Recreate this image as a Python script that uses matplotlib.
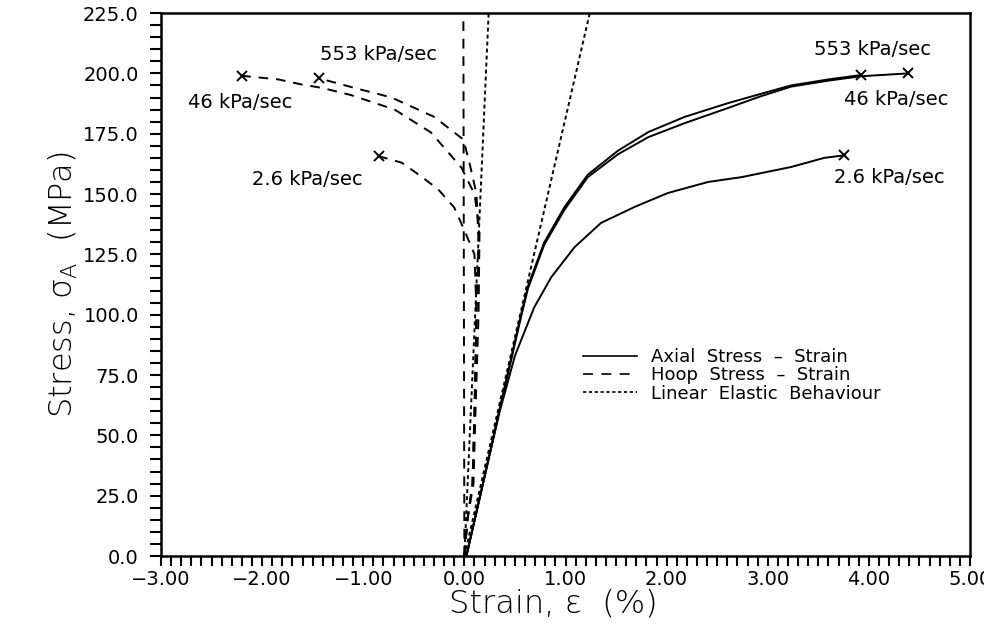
import numpy as np
import matplotlib.pyplot as plt

# Осевые кривые (сплошные): деформация, %, и напряжение, МПа
ax_553_eps = [0.02, 0.2, 0.35, 0.5, 0.56, 0.63, 0.79, 0.99, 1.22, 1.52, 1.82, 2.18, 2.61, 2.93, 3.23, 3.60, 3.92]
ax_553_sig = [0.0, 33, 61, 89, 100, 112, 130, 144.6, 158, 168, 175.7, 182, 187.7, 191.5, 195, 197.5, 199.3]
ax_46_eps = [0.02, 0.2, 0.35, 0.5, 0.56, 0.63, 0.79, 0.99, 1.22, 1.52, 1.82, 2.18, 2.61, 2.93, 3.23, 3.60, 3.92, 4.39]
ax_46_sig = [0.0, 33, 61, 88, 99, 111, 129, 143.5, 157, 166.5, 173.6, 179.4, 185.7, 190.5, 194.5, 197, 198.8, 200]
ax_26_eps = [0.02, 0.2, 0.35, 0.5, 0.69, 0.86, 1.09, 1.35, 1.68, 2.01, 2.41, 2.74, 3.23, 3.56, 3.75]
ax_26_sig = [0.0, 33, 60, 83, 103, 115.6, 128, 138, 144.6, 150.4, 155, 157, 161.2, 165, 166]

# Кольцевые кривые (штриховые)
hp_553_eps = [0.0, 0.03, 0.08, 0.10, 0.12, 0.14, 0.12, 0.05, -0.01, -0.30, -0.72, -1.09, -1.44]
hp_553_sig = [0.0, 15, 30, 60, 100, 130, 150, 163, 172.6, 182, 190, 194, 198]
hp_46_eps = [0.0, 0.03, 0.09, 0.11, 0.14, 0.15, 0.10, -0.03, -0.33, -0.69, -1.12, -1.41, -1.61, -1.84, -2.20]
hp_46_sig = [0.0, 15, 30, 60, 100, 135, 150, 161, 175.5, 185, 191, 194, 195.4, 197.5, 199]
hp_26_eps = [0.0, 0.03, 0.08, 0.10, 0.12, 0.10, 0.0, -0.10, -0.26, -0.45, -0.62, -0.84]
hp_26_sig = [0.0, 15, 30, 60, 100, 125, 135, 144.4, 152, 158, 163, 165.6]
hp_vert_eps = [0.0, -0.01]
hp_vert_sig = [0.0, 225]

# Линейно-упругое поведение (пунктир)
el_ax_eps = [0.0, 1.24]
el_ax_sig = [0.0, 225]
el_hp_eps = [0.0, 0.24]
el_hp_sig = [0.0, 225]

# Подписи скоростей нагружения
rate_labels = ["553 kPa/sec", "46 kPa/sec", "2.6 kPa/sec", "553 kPa/sec", "46 kPa/sec", "2.6 kPa/sec"]
rate_x = [-1.43, -2.73, -2.10, 3.46, 3.75, 3.65]
rate_y = [208, 188, 156, 210, 189, 157]

plt.rcParams['font.family'] = ['DejaVu Sans']
plt.rcParams['axes.unicode_minus'] = True
fig = plt.figure(figsize=(9.84, 6.27), dpi=100)
ax = fig.add_axes([0.1636, 0.1132, 0.8222, 0.866])

lw = 1.4
for e, s in [(ax_553_eps, ax_553_sig), (ax_46_eps, ax_46_sig), (ax_26_eps, ax_26_sig)]:
    ax.plot(e, s, color="black", lw=lw)
    ax.plot(e[-1], s[-1], marker="x", color="black", ms=7, mew=1.4)

for e, s in [(hp_553_eps, hp_553_sig), (hp_46_eps, hp_46_sig), (hp_26_eps, hp_26_sig)]:
    ax.plot(e, s, color="black", lw=lw, dashes=(5, 4))
    ax.plot(e[-1], s[-1], marker="x", color="black", ms=7, mew=1.4)
ax.plot(hp_vert_eps, hp_vert_sig, color="black", lw=lw, dashes=(5, 4))

ax.plot(el_ax_eps, el_ax_sig, color="black", lw=lw, dashes=(2, 1.6))
ax.plot(el_hp_eps, el_hp_sig, color="black", lw=lw, dashes=(2, 1.6))

for t, x, y in zip(rate_labels, rate_x, rate_y):
    ax.text(x, y, t, fontsize=14, va="center", ha="left")

# Легенда
h1, = ax.plot([], [], color="black", lw=1.2, label="Axial  Stress  –  Strain")
h2, = ax.plot([], [], color="black", lw=1.2, dashes=(6, 5), label="Hoop  Stress  –  Strain")
h3, = ax.plot([], [], color="black", lw=1.2, dashes=(2, 1.5), label="Linear  Elastic  Behaviour")
ax.legend(handles=[h1, h2, h3], loc="upper left", bbox_to_anchor=(0.51, 0.40),
          frameon=False, fontsize=13, handlelength=3.0, labelspacing=0.02,
          borderpad=0, handletextpad=0.8)

ax.set_xlim(-3, 5)
ax.set_ylim(0, 225)
ax.set_xticks(np.arange(-3, 5.01, 1))
ax.set_xticks(np.arange(-3, 5.01, 0.1), minor=True)
ax.set_yticks(np.arange(0, 225.1, 25))
ax.set_yticks(np.arange(0, 225.1, 5), minor=True)
ax.xaxis.set_major_formatter(plt.FuncFormatter(lambda v, p: f"{v:.2f}".replace("-", "\u2212")))
ax.yaxis.set_major_formatter(plt.FormatStrFormatter("%.1f"))
ax.tick_params(axis="both", which="both", direction="out", width=1.5, color="black", labelsize=14)
ax.tick_params(axis="x", which="both", length=7, pad=3)
ax.tick_params(axis="y", which="both", length=8, pad=8)
for sp in ax.spines.values():
    sp.set_linewidth(1.8)

ax.set_xlabel("Strain, ε  (%)", fontsize=23, fontweight="light")
ax.set_ylabel("Stress, σ$_\\mathregular{A}$  (MPa)", fontsize=23, fontweight="light")
ax.xaxis.set_label_coords(0.485, -0.060)
ax.yaxis.set_label_coords(-0.10, 0.5)

fig.savefig("out.png", dpi=100)
